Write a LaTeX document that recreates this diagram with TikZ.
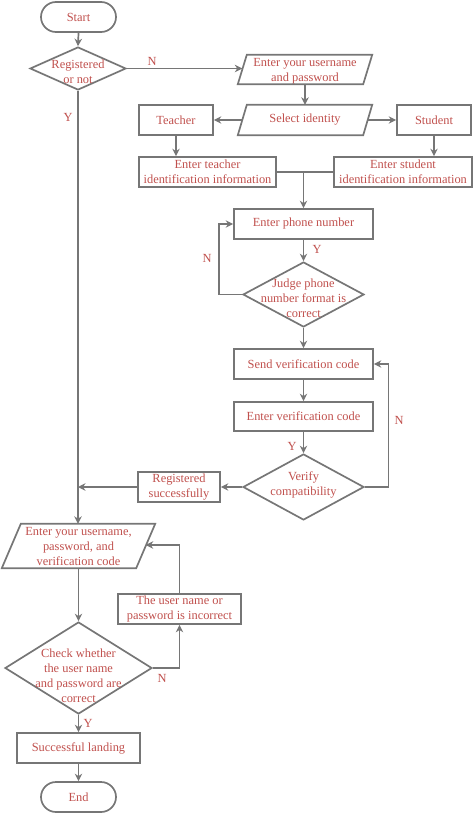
\documentclass[tikz,border=0pt]{standalone}
\usepackage{fontspec}
\setmainfont{Liberation Serif}
\usetikzlibrary{shapes.geometric,arrows.meta,calc}
\definecolor{linec}{RGB}{118,118,118}
\definecolor{textc}{RGB}{192,80,77}
\tikzset{
  ln/.style={draw=linec, line width=1.7pt},
  arr/.style={ln, -{Stealth[length=7.5pt,width=7.5pt]}},
  txt/.style={text=textc, align=center, inner sep=0pt, font=\fontsize{12.4}{15}\selectfont},
  box/.style={txt, ln, rectangle, minimum height=30pt},
  term/.style={box, rounded corners=15pt, minimum width=75pt},
  dia/.style={ln, diamond, inner sep=0pt},
  para/.style={txt},
  lbl/.style={text=textc, inner sep=0pt, font=\fontsize{12.4}{15}\selectfont}
}
\begin{document}
\begin{tikzpicture}[x=1pt,y=-1pt]
\useasboundingbox (0,0) rectangle (474,814);

% nodes
\node (start) [term] at (78.5,17) {Start};
\node (d1) [dia, minimum width=96pt, minimum height=43pt] at (78,68.5) {};
\node (d1t) [txt] at (78,72) {Registered\\or not};

\node (p1) [para, minimum width=134pt, minimum height=29pt] at (305,69.5) {};
\node (p1t) [txt] at (305,71) {Enter your username\\and password};
\draw[ln] ([xshift=9pt]p1.north west) -- (p1.north east) -- ([xshift=-9pt]p1.south east) -- (p1.south west) -- cycle;
\node (p2) [para, minimum width=134pt, minimum height=30pt] at (305,120) {Select identity};
\draw[ln] ([xshift=9pt]p2.north west) -- (p2.north east) -- ([xshift=-9pt]p2.south east) -- (p2.south west) -- cycle;

\node (teacher) [box, minimum width=74pt] at (176,120) {Teacher};
\node (student) [box, minimum width=74pt] at (434,120) {Student};
\node (tinfo) [box, minimum width=137pt] at (207.5,172) {Enter teacher\\identification information};
\node (sinfo) [box, minimum width=138pt] at (403,172) {Enter student\\identification information};

\node (phone) [box, minimum width=139pt] at (303.5,224) {Enter phone number};
\node (d2) [dia, minimum width=121pt, minimum height=65pt] at (303.5,294.5) {};
\node (d2t) [txt] at (303.5,298.5) {Judge phone\\number format is\\correct};

\node (send) [box, minimum width=139pt] at (303.5,364) {Send verification code};
\node (enter) [box, minimum width=139pt, minimum height=29pt] at (303.5,416.5) {Enter verification code};
\node (d3) [dia, minimum width=121pt, minimum height=66pt] at (303.5,487) {};
\node (d3t) [txt] at (303.5,485) {Verify\\compatibility};
\node (regok) [box, minimum width=82pt] at (179,487) {Registered\\successfully};

\node (p3) [para, minimum width=153pt, minimum height=44pt] at (78.5,546) {Enter your username,\\password, and\\verification code};
\draw[ln] ([xshift=19pt]p3.north west) -- (p3.north east) -- ([xshift=-19pt]p3.south east) -- (p3.south west) -- cycle;

\node (wrong) [box, minimum width=123pt] at (179.5,609) {The user name or\\password is incorrect};
\node (d4) [dia, minimum width=147pt, minimum height=92pt] at (78.5,668) {};
\node (d4t) [txt] at (78.5,675.5) {Check whether\\the user name\\and password are\\correct};
\node (succ) [box, minimum width=123pt] at (78.5,748) {Successful landing};
\node (end) [term] at (78.5,797) {End};

% helper coordinates on slanted edges
\coordinate (p1w) at ($(p1.west)+(4.5,0)$);
\coordinate (p2w) at ($(p2.west)+(4.5,0)$);
\coordinate (p2e) at ($(p2.east)+(-4.5,0)$);
\coordinate (p3e) at ($(p3.east)+(-9.5,-1)$);
\coordinate (j1) at (phone.north |- tinfo.east);
\coordinate (jm) at (regok.west -| d1.south);

% connectors
\draw[arr] (start.south) -- (d1.north);
\draw[arr] (d1.east) -- (d1.east -| p1w);
\node (nA) [lbl] at (152,61) {N};
\draw[arr] (p1.south) -- (p2.north);
\draw[arr] (p2e) -- (student.west);
\draw[arr] (p2w) -- (teacher.east);
\draw[arr] (teacher.south) -- (teacher.south |- tinfo.north);
\draw[arr] (student.south) -- (student.south |- sinfo.north);
\draw[ln] (tinfo.east) -- (sinfo.west);
\draw[arr] (j1) -- (phone.north);
\draw[arr] (phone.south) -- (d2.north);
\node (yB) [lbl] at (317,249) {Y};
\draw[arr] (d2.west) -- ++(-23.5,0) |- (phone.west);
\node (nB) [lbl] at (207,258) {N};
\draw[arr] (d2.south) -- (send.north);
\draw[arr] (send.south) -- (enter.north);
\draw[arr] (enter.south) -- (d3.north);
\node (yC) [lbl] at (292,446) {Y};
\draw[arr] (d3.east) -- ++(23.5,0) |- (send.east);
\node (nC) [lbl] at (399,420) {N};
\draw[arr] (d3.west) -- (regok.east);
\draw[arr] (regok.west) -- (jm);
\draw[arr] (d1.south) -- (d1.south |- p3.north);
\node (yA) [lbl] at (68,117) {Y};
\draw[arr] (p3.south) -- (d4.north);
\draw[arr] (d4.east) -| (wrong.south);
\node (nD) [lbl] at (162,678) {N};
\draw[arr] (wrong.north) |- (p3e);
\draw[arr] (d4.south) -- (succ.north);
\node (yD) [lbl] at (88,723) {Y};
\draw[arr] (succ.south) -- (end.north);
\end{tikzpicture}
\end{document}
